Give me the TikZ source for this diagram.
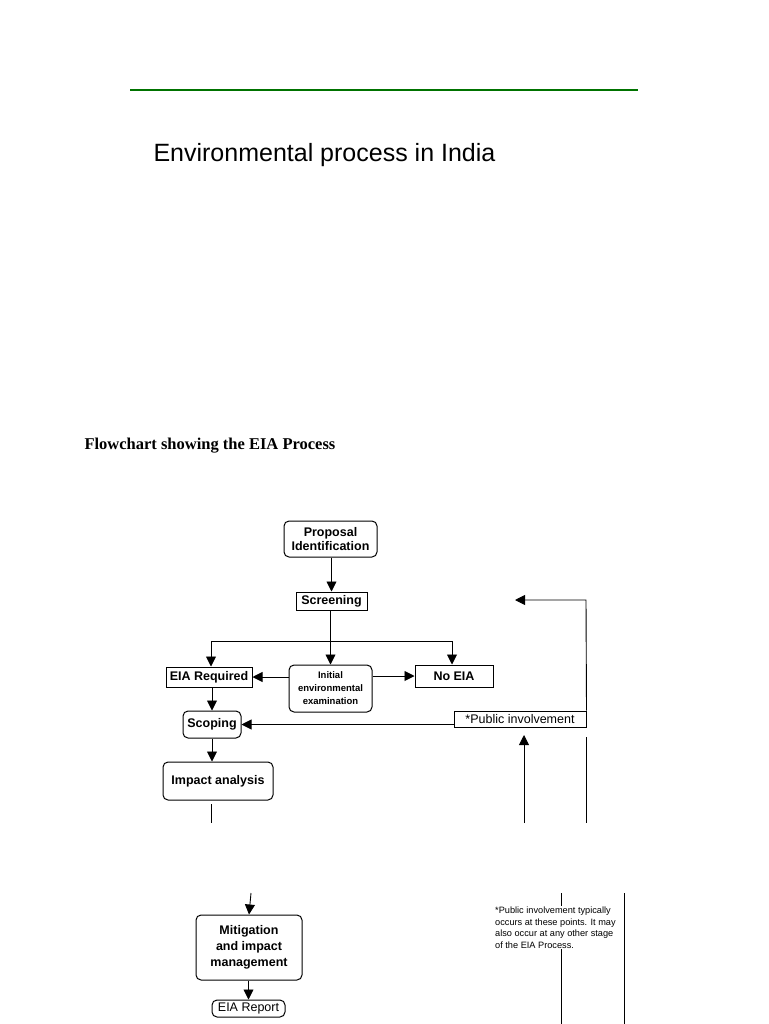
\documentclass[tikz,border=0pt]{standalone}
\usepackage{fontspec}
\setmainfont{Liberation Sans}
\newfontfamily\serifb{Liberation Serif}
\usetikzlibrary{arrows.meta}
\begin{document}
\begin{tikzpicture}[x=1pt,y=-1pt,
 box/.style={draw,line width=1pt,inner sep=0pt,font=\fontsize{12.5}{14}\selectfont\bfseries,align=center},
 rbox/.style={box,rounded corners=5pt},
 ar/.style={-{Triangle[length=10pt,width=10pt]},line width=0.9pt},
 ln/.style={line width=0.9pt}]
\useasboundingbox (0,0) rectangle (768,1024);
\draw[green!45!black,line width=2.5pt] (130,90) -- (638,90);
\node[anchor=west,font=\fontsize{25}{28}\selectfont] (title) at (150,155) {Environmental process in India};
\node[anchor=west,font=\serifb\fontsize{16.5}{18}\selectfont\bfseries] (fc) at (81,446) {Flowchart showing the EIA Process};
\node[rbox,minimum width=93pt,minimum height=36pt] (prop) at (330.5,539) {Proposal\\Identification};
\node[box,minimum width=71pt,minimum height=18pt] (scr) at (331.5,601) {Screening};
\node[box,minimum width=86pt,minimum height=20pt] (req) at (209,677) {EIA Required};
\node[rbox,minimum width=83pt,minimum height=47pt,font=\fontsize{9.5}{13}\selectfont\bfseries] (iee) at (330.5,688.5) {Initial\\environmental\\examination};
\node[box,minimum width=78pt,minimum height=22pt] (no) at (454,676) {No EIA};
\node[rbox,minimum width=58pt,minimum height=27pt] (scop) at (212,724.5) {Scoping};
\node[rbox,minimum width=110pt,minimum height=38pt] (imp) at (218,781) {Impact analysis};
\node[box,minimum width=132pt,minimum height=16pt,font=\fontsize{12.5}{14}\selectfont] (pub) at (520,719) {*Public involvement};
\node[rbox,minimum width=106pt,minimum height=65pt,font=\fontsize{12.5}{16}\selectfont\bfseries] (mit) at (249,947.5) {Mitigation\\and impact\\management};
\node[rbox,minimum width=73pt,minimum height=17pt,font=\fontsize{12.5}{14}\selectfont] (rep) at (248.5,1008.5) {EIA Report};
\draw[ar] (scr.north |- prop.south) -- (scr.north);
\draw[ar] (scr.south -| iee.north) -- (iee.north);
\coordinate (bl) at (211,641); \coordinate (br) at (452,641);
\draw[ln] (bl) -- (br);
\draw[ar] (bl) -- (req.north -| bl);
\draw[ar] (br) -- (no.north -| br);
\draw[ar] (iee.west |- req) -- (req.east);
\draw[ar] (iee.east |- no) -- (no.west);
\draw[ar] (req.south -| scop) -- (scop.north);
\draw[ar] (scop.south) -- (scop.south |- imp.north);
\draw[ar] (pub.west |- scop) -- (scop.east);
\coordinate (tr) at (586,600); \coordinate (ta) at (515,600);
\draw[ar] (pub.east |- pub.north) -- (tr) -- (ta);
\coordinate (ia) at (211,804); \coordinate (ib) at (211,823);
\draw[ln] (ia) -- (ib);
\coordinate (ua) at (524,823); \coordinate (ub) at (524,735);
\draw[ar] (ua) -- (ub);
\coordinate (ra) at (586,737); \coordinate (rb) at (586,823);
\draw[ln] (ra) -- (rb);
\coordinate (ma) at (251,893);
\draw[ar] (ma) -- (mit.north);
\draw[ar] (mit.south -| rep) -- (rep.north);
\coordinate (la) at (561,893); \coordinate (lb) at (561,1024);
\coordinate (qa) at (624,893); \coordinate (qb) at (624,1024);
\draw[ln] (la) -- (lb); \draw[ln] (qa) -- (qb);
\node[anchor=north west,align=left,fill=white,inner sep=1pt,font=\fontsize{9.2}{11.5}\selectfont] (note) at (494,906) {*Public involvement typically\\occurs at these points. It may\\also occur at any other stage\\of the EIA Process.};
\end{tikzpicture}
\end{document}
